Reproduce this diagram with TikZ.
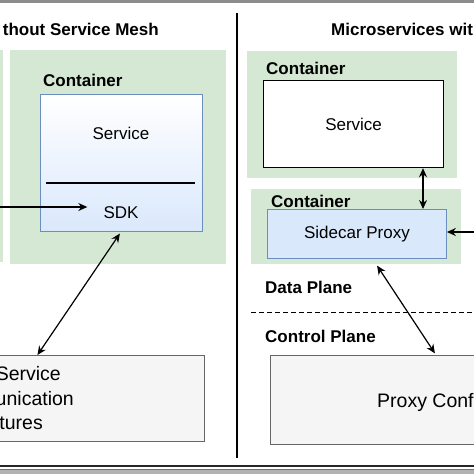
\documentclass[tikz,border=0pt]{standalone}
\usepackage{fontspec}
\setmainfont{Liberation Sans}
\usepackage{tikz}
\usetikzlibrary{arrows.meta}
\tikzset{>={Stealth[length=9pt,width=8pt,inset=3pt]}}
\definecolor{paneGreen}{HTML}{D5E8D4}
\definecolor{boxBlue}{HTML}{DAE8FC}
\definecolor{edgeBlue}{HTML}{6C8EBF}
\definecolor{boxGray}{HTML}{F5F5F5}
\definecolor{edgeGray}{HTML}{666666}
\tikzset{
    txt/.style={font=\fontsize{17pt}{20pt}\selectfont, inner sep=0pt},
    bigtxt/.style={font=\fontsize{19.5pt}{24pt}\selectfont, inner sep=0pt},
    hd/.style={font=\fontsize{17pt}{20pt}\selectfont\bfseries, inner sep=0pt},
    pane/.style={fill=paneGreen, anchor=north west, inner sep=0pt, outer sep=0pt},
    gradbox/.style={draw=edgeBlue, line width=0.9pt, top color=white, bottom color=boxBlue, anchor=north west, inner sep=0pt},
    bluebox/.style={txt, draw=edgeBlue, line width=0.9pt, fill=boxBlue, anchor=north west},
    whitebox/.style={txt, draw=black, line width=1.2pt, fill=white, anchor=north west},
    graybox/.style={draw=edgeGray, line width=0.9pt, fill=boxGray, anchor=north west, inner sep=0pt},
    flow/.style={draw, line width=1.2pt, ->},
    duplex/.style={draw, line width=1.2pt, <->},
}

\begin{document}
\begin{tikzpicture}[x=1pt, y=-1pt]
                    \useasboundingbox (0,0) rectangle (474,474);
                    \clip (0,0) rectangle (474,474);
                    % frame of the picture
                    \fill[black!45] (0,0) rectangle (474,2.5);
                    \draw[line width=1.2pt, black!85] (0,466) -- (474,466);
                    \draw[line width=1pt, black!55] (0,469.5) -- (474,469.5);
                    \fill[black!30] (0,470) rectangle (474,474);
                    \draw[line width=2.2pt] (237,13) -- (237,458);
                    % without service mesh
                    \node[hd, anchor=base east] (titleL) at (159,35) {thout Service Mesh};
                    \node[pane, minimum width=103pt, minimum height=212pt] (stripL) at (-100,50) {};
                    \node[pane, minimum width=216pt, minimum height=214pt] (ctrL) at (10,50) {};
                    \node[hd, anchor=base west] (ctrLlabel) at (43,86) {Container};
                    \node[gradbox, minimum width=162pt, minimum height=137pt] (svcL) at (40,94) {};
                    \draw[line width=2.5pt] (46,183) -- (195,183);
                    \node[txt, anchor=base] (svcLtext) at (121,139) {Service};
                    \node[txt, anchor=base] (sdk) at (121,218) {SDK};
                    \node[graybox, minimum width=334pt, minimum height=86pt] (feat) at (-130,355) {};
                    \node[bigtxt, anchor=base east] (featA) at (61,380) {Service};
                    \node[bigtxt, anchor=base east] (featB) at (74,405) {unication};
                    \node[bigtxt, anchor=base east] (featC) at (43,429) {tures};
                    \coordinate (inL) at (-5,207);
                    \draw[flow, shorten >=16pt] (inL) -- (inL -| sdk.west);
                    \draw[duplex, shorten <=2pt] (sdk |- svcL.south) -- (feat.north);
                    % with service mesh
                    \node[hd, anchor=base west] (titleR) at (331,35) {Microservices wit};
                    \node[pane, minimum width=210pt, minimum height=127pt] (ctrA) at (247,51) {};
                    \node[hd, anchor=base west] (ctrAlabel) at (266,74) {Container};
                    \node[whitebox, minimum width=180pt, minimum height=87pt] (svcR) at (263,80) {Service};
                    \node[pane, minimum width=210pt, minimum height=75pt] (ctrB) at (251,189) {};
                    \node[hd, anchor=base west] (ctrBlabel) at (271,207) {Container};
                    \node[bluebox, minimum width=179pt, minimum height=49pt] (proxy) at (267,209) {Sidecar Proxy};
                    \node[hd, anchor=base west] (dataplane) at (265,293) {Data Plane};
                    \coordinate (cutA) at (251,312);
                    \coordinate (cutB) at (480,312);
                    \draw[line width=0.9pt, dash pattern=on 4.7pt off 3.3pt] (cutA) -- (cutB);
                    \node[hd, anchor=base west] (ctrlplane) at (265,342) {Control Plane};
                    \node[graybox, minimum width=330pt, minimum height=89pt] (cfg) at (270,355) {};
                    \node[bigtxt, anchor=base west] (cfgtext) at (377,407) {Proxy Conf};
                    \coordinate (tapR) at (423,0);
                    \draw[duplex] (svcR.south -| tapR) -- (proxy.north -| tapR);
                    \coordinate (inR) at (480,232);
                    \draw[flow] (inR) -- (proxy.east |- inR);
                    \coordinate (tapA) at (376,0);
                    \coordinate (tapB) at (436,0);
                    \draw[duplex, shorten <=2pt, shorten >=2pt] (ctrB.south -| tapA) -- (cfg.north -| tapB);
\end{tikzpicture}
\end{document}
